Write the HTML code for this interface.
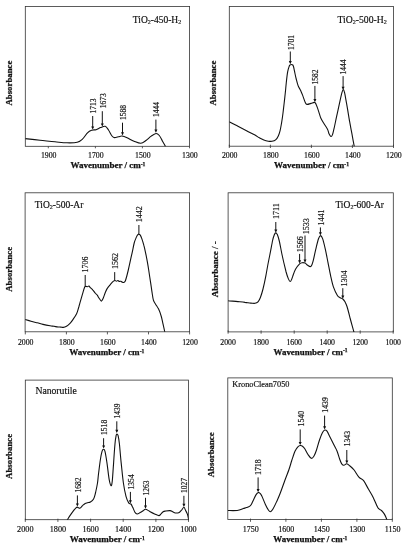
<!DOCTYPE html>
<html><head><meta charset="utf-8"><title>FTIR spectra</title>
<style>
html,body{margin:0;padding:0;background:#fff}
svg{display:block}
text{font-family:"Liberation Serif",serif;fill:#111;stroke:#111;stroke-width:0.18px}
.b{font-weight:bold;stroke-width:0.25px}
</style></head><body>
<svg width="407" height="550" viewBox="0 0 407 550">
<rect width="407" height="550" fill="#fff"/>
<g>
<clipPath id="c1"><rect x="25.3" y="6.4" width="164.3" height="139.9"/></clipPath>
<rect x="25.3" y="6.4" width="164.3" height="139.9" fill="none" stroke="#333" stroke-width="0.80"/>
<line x1="48.3" y1="146.3" x2="48.3" y2="148.3" stroke="#333" stroke-width="0.8"/>
<text x="48.7" y="158.1" font-size="7.8" text-anchor="middle">1900</text>
<line x1="95.4" y1="146.3" x2="95.4" y2="148.3" stroke="#333" stroke-width="0.8"/>
<text x="95.8" y="158.1" font-size="7.8" text-anchor="middle">1700</text>
<line x1="142.4" y1="146.3" x2="142.4" y2="148.3" stroke="#333" stroke-width="0.8"/>
<text x="142.8" y="158.1" font-size="7.8" text-anchor="middle">1500</text>
<line x1="189.5" y1="146.3" x2="189.5" y2="148.3" stroke="#333" stroke-width="0.8"/>
<text x="189.9" y="158.1" font-size="7.8" text-anchor="middle">1300</text>
<text class="b" x="107.9" y="168.4" font-size="9.0" text-anchor="middle">Wavenumber / cm<tspan font-size="5.6" dy="-2.6">-1</tspan></text>
<text class="b" transform="translate(11.6 83.1) rotate(-90)" font-size="8.8" text-anchor="middle">Absorbance</text>
<text x="132.8" y="22.7" font-size="9.5" text-anchor="start">TiO<tspan font-size="6" dy="1.3">2</tspan><tspan dy="-1.3">-450-H</tspan><tspan font-size="6" dy="1.3">2</tspan></text>
<path d="M25.2 138.6C27.7 138.9 35.0 139.7 40.0 140.2C45.0 140.7 50.5 141.4 55.0 141.8C59.5 142.2 63.3 142.7 67.0 142.8C70.7 142.9 74.6 142.9 77.2 142.3C79.8 141.7 80.7 140.8 82.4 139.2C84.1 137.6 86.0 134.3 87.5 132.8C89.0 131.3 90.2 130.7 91.6 130.2C93.0 129.7 94.6 130.1 96.1 129.7C97.6 129.3 99.1 128.2 100.6 127.6C102.1 127.0 103.9 125.9 105.2 126.3C106.5 126.7 107.4 128.4 108.5 130.0C109.6 131.6 111.0 134.7 112.0 136.0C113.0 137.3 113.2 137.5 114.3 137.6C115.4 137.7 117.2 137.1 118.5 136.8C119.8 136.5 120.5 135.8 121.9 136.0C123.3 136.2 125.1 136.9 127.1 137.8C129.1 138.7 131.7 140.3 134.0 141.2C136.3 142.1 138.8 143.4 140.8 143.3C142.8 143.2 144.3 141.7 146.0 140.5C147.7 139.3 149.5 137.3 151.2 136.1C152.9 134.9 154.7 133.6 156.0 133.5C157.3 133.4 158.2 134.2 159.3 135.5C160.4 136.8 161.5 139.4 162.5 141.2C163.5 143.0 164.8 145.0 165.5 146.5C166.2 148.0 166.8 149.4 167.0 150.0" fill="none" stroke="#111" stroke-width="1.10" stroke-linejoin="round" clip-path="url(#c1)"/>
<line x1="92.7" y1="116.0" x2="92.7" y2="128.1" stroke="#111" stroke-width="1.00"/>
<path d="M92.7 129.6 l-1.5 -3.2 h3z" fill="#111"/>
<text transform="translate(96.1 113.6) rotate(-90)" font-size="7.5">1713</text>
<line x1="102.3" y1="111.2" x2="102.3" y2="125.1" stroke="#111" stroke-width="1.00"/>
<path d="M102.3 126.6 l-1.5 -3.2 h3z" fill="#111"/>
<text transform="translate(105.8 108.2) rotate(-90)" font-size="7.5">1673</text>
<line x1="122.5" y1="122.7" x2="122.5" y2="133.9" stroke="#111" stroke-width="1.00"/>
<path d="M122.5 135.4 l-1.5 -3.2 h3z" fill="#111"/>
<text transform="translate(126.1 119.9) rotate(-90)" font-size="7.5">1588</text>
<line x1="155.9" y1="119.6" x2="155.9" y2="131.3" stroke="#111" stroke-width="1.00"/>
<path d="M155.9 132.8 l-1.5 -3.2 h3z" fill="#111"/>
<text transform="translate(159.4 117.0) rotate(-90)" font-size="7.5">1444</text>
</g>
<g>
<clipPath id="c2"><rect x="229.3" y="6.4" width="164.2" height="139.8"/></clipPath>
<rect x="229.3" y="6.4" width="164.2" height="139.8" fill="none" stroke="#333" stroke-width="0.80"/>
<line x1="229.3" y1="144.7" x2="229.3" y2="148.0" stroke="#333" stroke-width="0.8"/>
<text x="229.7" y="158.2" font-size="7.8" text-anchor="middle">2000</text>
<line x1="270.4" y1="144.7" x2="270.4" y2="148.0" stroke="#333" stroke-width="0.8"/>
<text x="270.8" y="158.2" font-size="7.8" text-anchor="middle">1800</text>
<line x1="311.4" y1="144.7" x2="311.4" y2="148.0" stroke="#333" stroke-width="0.8"/>
<text x="311.8" y="158.2" font-size="7.8" text-anchor="middle">1600</text>
<line x1="352.4" y1="144.7" x2="352.4" y2="148.0" stroke="#333" stroke-width="0.8"/>
<text x="352.8" y="158.2" font-size="7.8" text-anchor="middle">1400</text>
<line x1="393.5" y1="144.7" x2="393.5" y2="148.0" stroke="#333" stroke-width="0.8"/>
<text x="393.9" y="158.2" font-size="7.8" text-anchor="middle">1200</text>
<text class="b" x="311.5" y="168.1" font-size="9.0" text-anchor="middle">Wavenumber / cm<tspan font-size="5.6" dy="-2.6">-1</tspan></text>
<text class="b" transform="translate(215.6 83.1) rotate(-90)" font-size="8.8" text-anchor="middle">Absorbance</text>
<text x="337.5" y="22.6" font-size="9.7" text-anchor="start">TiO<tspan font-size="6" dy="1.3">2</tspan><tspan dy="-1.3">-500-H</tspan><tspan font-size="6" dy="1.3">2</tspan></text>
<path d="M229.3 121.7C230.7 122.5 235.0 124.7 237.9 126.2C240.8 127.7 243.7 129.2 246.5 130.7C249.3 132.2 252.8 133.9 255.0 135.1C257.1 136.3 257.9 137.0 259.4 137.8C260.9 138.6 262.3 139.4 263.8 140.0C265.3 140.6 266.9 141.0 268.3 141.2C269.7 141.4 270.8 141.5 272.0 141.3C273.2 141.1 274.6 140.8 275.6 139.9C276.7 139.0 277.6 137.4 278.3 135.9C279.1 134.4 279.6 132.8 280.1 130.7C280.6 128.6 281.0 126.2 281.5 123.3C282.0 120.3 282.6 116.4 283.0 113.0C283.4 109.6 283.8 105.9 284.2 102.7C284.6 99.5 284.8 97.2 285.2 93.8C285.6 90.4 285.9 86.2 286.3 82.5C286.7 78.8 287.2 74.4 287.7 71.7C288.2 69.0 288.8 67.4 289.2 66.3C289.6 65.2 289.8 65.2 290.2 64.9C290.6 64.6 291.1 64.5 291.5 64.5C291.9 64.5 292.4 64.6 292.8 65.0C293.2 65.4 293.3 65.9 293.6 67.0C293.9 68.1 294.2 69.8 294.6 71.7C295.0 73.6 295.5 76.2 296.1 78.5C296.7 80.8 297.3 83.4 298.0 85.4C298.7 87.4 299.8 88.7 300.5 90.3C301.2 91.9 301.7 92.8 302.5 94.9C303.3 97.0 304.7 101.5 305.5 103.1C306.3 104.7 306.4 104.4 307.3 104.4C308.2 104.5 309.7 103.7 311.0 103.4C312.3 103.1 313.9 101.9 314.9 102.5C315.9 103.1 316.4 105.2 317.2 107.1C317.9 109.0 318.8 111.9 319.4 113.8C320.0 115.7 320.2 116.6 320.9 118.2C321.6 119.8 322.7 121.5 323.8 123.3C324.9 125.1 326.6 127.5 327.5 129.2C328.4 130.9 328.4 132.5 329.0 133.7C329.6 134.9 330.3 136.2 330.9 136.4C331.5 136.6 331.9 136.1 332.4 134.9C332.9 133.7 333.2 132.1 333.9 129.2C334.6 126.3 335.5 121.6 336.4 117.4C337.3 113.2 338.4 108.4 339.3 104.2C340.2 100.0 341.3 94.8 342.0 92.4C342.7 90.0 342.9 89.6 343.3 89.6C343.7 89.6 343.9 90.0 344.5 92.4C345.1 94.8 345.8 99.3 346.7 104.2C347.6 109.1 348.8 117.0 349.7 121.9C350.6 126.8 351.1 129.6 351.9 133.7C352.6 137.8 353.6 143.1 354.2 146.2C354.8 149.2 355.1 151.0 355.3 152.0" fill="none" stroke="#111" stroke-width="1.10" stroke-linejoin="round" clip-path="url(#c2)"/>
<line x1="290.3" y1="51.5" x2="290.3" y2="62.7" stroke="#111" stroke-width="1.00"/>
<path d="M290.3 64.2 l-1.5 -3.2 h3z" fill="#111"/>
<text transform="translate(293.6 50.0) rotate(-90)" font-size="7.5">1701</text>
<line x1="314.9" y1="85.9" x2="314.9" y2="100.7" stroke="#111" stroke-width="1.00"/>
<path d="M314.9 102.2 l-1.5 -3.2 h3z" fill="#111"/>
<text transform="translate(318.2 84.4) rotate(-90)" font-size="7.5">1582</text>
<line x1="343.1" y1="76.1" x2="343.1" y2="88.4" stroke="#111" stroke-width="1.00"/>
<path d="M343.1 89.9 l-1.5 -3.2 h3z" fill="#111"/>
<text transform="translate(346.4 74.6) rotate(-90)" font-size="7.5">1444</text>
</g>
<g>
<clipPath id="c3"><rect x="25.1" y="192.8" width="164.5" height="139.0"/></clipPath>
<rect x="25.1" y="192.8" width="164.5" height="139.0" fill="none" stroke="#333" stroke-width="0.80"/>
<line x1="25.3" y1="331.8" x2="25.3" y2="334.4" stroke="#333" stroke-width="0.8"/>
<text x="25.7" y="344.6" font-size="7.8" text-anchor="middle">2000</text>
<line x1="66.4" y1="331.8" x2="66.4" y2="334.4" stroke="#333" stroke-width="0.8"/>
<text x="66.8" y="344.6" font-size="7.8" text-anchor="middle">1800</text>
<line x1="107.4" y1="331.8" x2="107.4" y2="334.4" stroke="#333" stroke-width="0.8"/>
<text x="107.8" y="344.6" font-size="7.8" text-anchor="middle">1600</text>
<line x1="148.5" y1="331.8" x2="148.5" y2="334.4" stroke="#333" stroke-width="0.8"/>
<text x="148.9" y="344.6" font-size="7.8" text-anchor="middle">1400</text>
<line x1="189.6" y1="331.8" x2="189.6" y2="334.4" stroke="#333" stroke-width="0.8"/>
<text x="190.0" y="344.6" font-size="7.8" text-anchor="middle">1200</text>
<text class="b" x="106.8" y="355.3" font-size="9.0" text-anchor="middle">Wavenumber / cm<tspan font-size="5.6" dy="-2.6">-1</tspan></text>
<text class="b" transform="translate(11.6 269.3) rotate(-90)" font-size="8.8" text-anchor="middle">Absorbance</text>
<text x="34.8" y="207.6" font-size="9.5" text-anchor="start">TiO<tspan font-size="6" dy="1.3">2</tspan><tspan dy="-1.3">-500-Ar</tspan></text>
<path d="M25.2 319.5C26.2 319.8 29.0 320.6 31.0 321.2C33.0 321.8 35.2 322.3 37.2 322.8C39.2 323.3 40.9 323.9 43.0 324.4C45.1 324.9 48.3 325.5 50.1 325.8C51.9 326.1 52.7 326.1 54.0 326.3C55.3 326.5 56.8 326.9 58.0 327.0C59.2 327.1 60.2 327.0 61.0 327.1C61.8 327.2 62.2 327.5 63.0 327.4C63.8 327.3 64.8 327.3 66.0 326.6C67.2 325.9 68.8 324.5 70.0 323.3C71.2 322.1 71.8 321.2 72.9 319.6C74.0 318.0 75.6 315.8 76.6 313.7C77.6 311.6 78.0 309.5 78.8 307.0C79.5 304.5 80.4 301.3 81.1 298.9C81.8 296.4 82.4 294.3 83.0 292.3C83.6 290.3 84.2 288.1 84.7 287.1C85.2 286.1 85.5 286.4 85.9 286.4C86.4 286.3 86.9 286.9 87.4 286.8C87.9 286.8 88.4 285.9 88.9 286.1C89.4 286.3 89.9 287.2 90.6 287.9C91.3 288.6 92.2 289.2 92.9 290.1C93.7 291.0 94.4 292.1 95.1 293.0C95.8 293.9 96.7 294.4 97.3 295.2C97.9 296.0 98.1 296.7 98.8 297.7C99.5 298.7 100.6 301.0 101.3 301.1C102.0 301.2 102.5 299.7 103.2 298.2C103.9 296.7 104.7 294.0 105.4 292.3C106.1 290.6 106.7 289.2 107.6 287.9C108.5 286.5 109.6 285.3 110.6 284.2C111.6 283.1 112.8 281.8 113.5 281.2C114.2 280.6 114.5 280.5 115.0 280.5C115.5 280.5 116.0 281.2 116.5 281.2C117.0 281.2 117.4 280.4 117.9 280.5C118.4 280.6 118.9 281.4 119.4 281.5C119.9 281.6 120.4 281.1 120.9 281.2C121.4 281.3 121.9 282.1 122.4 282.3C122.9 282.5 123.3 282.6 123.8 282.4C124.3 282.2 124.8 282.0 125.3 280.9C125.8 279.8 126.3 277.8 126.8 276.0C127.3 274.2 127.8 272.1 128.3 270.0C128.8 267.9 129.1 266.5 129.7 263.7C130.3 260.9 131.2 256.8 132.0 253.3C132.8 249.9 133.5 245.7 134.2 243.0C134.9 240.3 135.8 238.5 136.4 237.1C137.0 235.7 137.5 235.1 137.9 234.6C138.3 234.1 138.5 234.1 138.9 234.2C139.3 234.2 139.6 234.2 140.1 234.9C140.6 235.6 141.2 236.9 141.8 238.6C142.4 240.3 143.2 242.8 143.8 245.2C144.5 247.6 145.1 250.5 145.7 253.3C146.3 256.1 146.9 259.4 147.4 262.2C147.9 265.0 148.2 266.7 148.7 270.0C149.2 273.3 149.9 278.1 150.5 281.8C151.1 285.5 151.5 289.0 152.0 292.1C152.5 295.2 152.8 298.2 153.4 300.2C154.0 302.2 154.7 302.7 155.6 304.2C156.5 305.7 157.6 307.1 158.6 309.1C159.6 311.2 160.6 314.1 161.3 316.5C162.0 318.9 162.4 321.2 163.0 323.8C163.6 326.4 164.3 329.6 164.8 332.0C165.3 334.4 165.8 337.0 166.0 338.0" fill="none" stroke="#111" stroke-width="1.10" stroke-linejoin="round" clip-path="url(#c3)"/>
<line x1="85.2" y1="275.0" x2="85.2" y2="286.4" stroke="#111" stroke-width="1.00"/>
<text transform="translate(88.4 272.6) rotate(-90)" font-size="8.0">1706</text>
<line x1="114.7" y1="272.1" x2="114.7" y2="280.5" stroke="#111" stroke-width="1.00"/>
<text transform="translate(117.9 269.0) rotate(-90)" font-size="8.0">1562</text>
<line x1="138.9" y1="225.0" x2="138.9" y2="234.2" stroke="#111" stroke-width="1.00"/>
<text transform="translate(142.1 222.3) rotate(-90)" font-size="8.0">1442</text>
</g>
<g>
<clipPath id="c4"><rect x="228.1" y="192.8" width="165.2" height="139.1"/></clipPath>
<rect x="228.1" y="192.8" width="165.2" height="139.1" fill="none" stroke="#333" stroke-width="0.80"/>
<line x1="228.1" y1="330.4" x2="228.1" y2="333.7" stroke="#333" stroke-width="0.8"/>
<text x="228.1" y="344.8" font-size="7.8" text-anchor="middle">2000</text>
<line x1="261.1" y1="330.4" x2="261.1" y2="333.7" stroke="#333" stroke-width="0.8"/>
<text x="261.1" y="344.8" font-size="7.8" text-anchor="middle">1800</text>
<line x1="294.2" y1="330.4" x2="294.2" y2="333.7" stroke="#333" stroke-width="0.8"/>
<text x="294.2" y="344.8" font-size="7.8" text-anchor="middle">1600</text>
<line x1="327.2" y1="330.4" x2="327.2" y2="333.7" stroke="#333" stroke-width="0.8"/>
<text x="327.2" y="344.8" font-size="7.8" text-anchor="middle">1400</text>
<line x1="360.2" y1="330.4" x2="360.2" y2="333.7" stroke="#333" stroke-width="0.8"/>
<text x="360.2" y="344.8" font-size="7.8" text-anchor="middle">1200</text>
<line x1="393.2" y1="330.4" x2="393.2" y2="333.7" stroke="#333" stroke-width="0.8"/>
<text x="393.2" y="344.8" font-size="7.8" text-anchor="middle">1000</text>
<text class="b" x="310.6" y="354.6" font-size="8.9" text-anchor="middle">Wavenumber / cm<tspan font-size="5.5" dy="-2.6">-1</tspan></text>
<text class="b" transform="translate(218.2 269.3) rotate(-90)" font-size="9.0" text-anchor="middle">Absorbance / -</text>
<text x="335.4" y="207.6" font-size="9.5" text-anchor="start">TiO<tspan font-size="6" dy="1.3">2</tspan><tspan dy="-1.3">-600-Ar</tspan></text>
<path d="M228.1 300.7C229.7 300.9 235.1 301.3 237.9 301.6C240.7 301.9 242.8 302.1 245.0 302.4C247.2 302.6 249.1 303.0 250.8 303.1C252.5 303.2 253.8 303.5 255.0 303.3C256.2 303.1 257.1 302.8 258.0 301.8C258.9 300.8 259.6 299.6 260.4 297.5C261.2 295.4 262.1 292.6 263.0 289.0C263.9 285.4 265.0 280.3 265.8 276.1C266.6 271.9 267.3 267.6 268.0 264.0C268.7 260.4 269.1 258.4 269.9 254.5C270.7 250.6 271.9 243.8 272.6 240.5C273.3 237.2 273.8 236.1 274.3 234.8C274.8 233.5 275.3 232.9 275.8 232.9C276.3 232.9 276.7 233.2 277.3 234.6C277.9 235.9 278.5 237.7 279.3 241.0C280.1 244.3 280.9 249.3 282.0 254.5C283.1 259.7 285.1 268.0 286.1 272.0C287.2 276.0 287.6 277.0 288.3 278.6C289.0 280.2 289.6 281.4 290.1 281.5C290.7 281.6 291.2 280.4 291.6 279.5C292.1 278.6 292.2 277.8 292.8 276.1C293.4 274.4 294.4 271.3 295.5 269.3C296.6 267.3 298.5 265.0 299.6 263.9C300.7 262.8 301.4 262.8 302.3 262.7C303.2 262.6 304.1 262.7 305.0 263.1C305.9 263.5 306.8 264.7 307.7 265.3C308.6 265.9 309.7 266.7 310.4 266.6C311.1 266.6 311.4 265.9 311.8 265.0C312.2 264.1 312.4 263.8 313.1 261.2C313.8 258.6 314.9 252.8 315.8 249.1C316.7 245.4 317.7 241.1 318.5 238.8C319.3 236.6 319.7 235.6 320.4 235.6C321.1 235.6 321.8 236.3 322.6 238.6C323.4 240.8 324.4 245.1 325.3 249.1C326.2 253.1 327.1 258.1 328.0 262.6C328.9 267.1 329.8 272.1 330.7 276.1C331.6 280.2 332.3 283.7 333.4 286.9C334.5 290.1 336.3 293.7 337.4 295.5C338.5 297.3 339.2 297.1 340.1 297.7C341.0 298.3 342.0 298.3 342.8 299.0C343.6 299.7 344.3 300.6 345.0 301.8C345.7 303.1 346.1 303.7 347.0 306.5C347.9 309.3 349.1 314.2 350.2 318.5C351.3 322.8 353.1 328.8 353.9 332.0C354.7 335.2 355.0 337.0 355.2 338.0" fill="none" stroke="#111" stroke-width="1.10" stroke-linejoin="round" clip-path="url(#c4)"/>
<line x1="275.8" y1="222.0" x2="275.8" y2="231.2" stroke="#111" stroke-width="1.00"/>
<path d="M275.8 232.7 l-1.5 -3.2 h3z" fill="#111"/>
<text transform="translate(279.3 218.9) rotate(-90)" font-size="8.0">1711</text>
<line x1="299.6" y1="253.9" x2="299.6" y2="261.9" stroke="#111" stroke-width="1.00"/>
<path d="M299.6 263.4 l-1.5 -3.2 h3z" fill="#111"/>
<text transform="translate(302.9 252.3) rotate(-90)" font-size="8.0">1566</text>
<line x1="305.0" y1="235.5" x2="305.0" y2="261.2" stroke="#111" stroke-width="1.00"/>
<path d="M305.0 262.7 l-1.5 -3.2 h3z" fill="#111"/>
<text transform="translate(308.9 234.2) rotate(-90)" font-size="8.0">1533</text>
<line x1="320.4" y1="227.4" x2="320.4" y2="233.9" stroke="#111" stroke-width="1.00"/>
<path d="M320.4 235.4 l-1.5 -3.2 h3z" fill="#111"/>
<text transform="translate(324.2 225.5) rotate(-90)" font-size="8.0">1441</text>
<line x1="342.8" y1="288.2" x2="342.8" y2="297.3" stroke="#111" stroke-width="1.00"/>
<path d="M342.8 298.8 l-1.5 -3.2 h3z" fill="#111"/>
<text transform="translate(347.2 286.4) rotate(-90)" font-size="8.0">1304</text>
</g>
<g>
<clipPath id="c5"><rect x="25.3" y="380.1" width="163.2" height="139.6"/></clipPath>
<rect x="25.3" y="380.1" width="163.2" height="139.6" fill="none" stroke="#333" stroke-width="0.80"/>
<line x1="25.3" y1="518.7" x2="25.3" y2="521.9" stroke="#333" stroke-width="0.8"/>
<text x="25.3" y="531.8" font-size="8.2" text-anchor="middle">2000</text>
<line x1="57.9" y1="518.7" x2="57.9" y2="521.9" stroke="#333" stroke-width="0.8"/>
<text x="57.9" y="531.8" font-size="8.2" text-anchor="middle">1800</text>
<line x1="90.6" y1="518.7" x2="90.6" y2="521.9" stroke="#333" stroke-width="0.8"/>
<text x="90.6" y="531.8" font-size="8.2" text-anchor="middle">1600</text>
<line x1="123.2" y1="518.7" x2="123.2" y2="521.9" stroke="#333" stroke-width="0.8"/>
<text x="123.2" y="531.8" font-size="8.2" text-anchor="middle">1400</text>
<line x1="155.9" y1="518.7" x2="155.9" y2="521.9" stroke="#333" stroke-width="0.8"/>
<text x="155.9" y="531.8" font-size="8.2" text-anchor="middle">1200</text>
<line x1="188.5" y1="518.7" x2="188.5" y2="521.9" stroke="#333" stroke-width="0.8"/>
<text x="188.5" y="531.8" font-size="8.2" text-anchor="middle">1000</text>
<text class="b" x="107.2" y="542.2" font-size="9.0" text-anchor="middle">Wavenumber / cm<tspan font-size="5.6" dy="-2.6">-1</tspan></text>
<text class="b" transform="translate(11.6 456.4) rotate(-90)" font-size="8.8" text-anchor="middle">Absorbance</text>
<text x="35.4" y="393.8" font-size="9.7" text-anchor="start">Nanorutile</text>
<path d="M65.5 524.0C65.8 523.3 66.8 521.1 67.5 519.7C68.2 518.3 69.1 517.0 70.0 515.6C70.9 514.2 72.1 512.5 73.0 511.3C73.9 510.1 74.8 509.0 75.5 508.3C76.2 507.6 76.6 507.2 77.1 507.1C77.6 507.0 78.0 507.6 78.5 507.8C79.0 508.0 79.3 508.4 79.8 508.2C80.3 508.0 81.0 507.3 81.5 506.8C82.0 506.3 82.4 505.7 83.0 505.2C83.6 504.7 84.5 504.0 85.2 503.6C86.0 503.2 86.6 503.1 87.5 502.8C88.4 502.5 89.4 502.6 90.4 502.0C91.4 501.4 92.7 500.5 93.6 498.9C94.5 497.3 94.9 495.1 95.6 492.5C96.2 489.9 97.0 486.1 97.5 483.0C98.0 479.9 98.0 477.9 98.5 474.0C99.0 470.1 99.8 463.3 100.4 459.5C101.0 455.7 101.6 452.9 102.1 451.2C102.6 449.5 103.0 449.3 103.5 449.3C104.0 449.3 104.3 448.9 104.9 451.2C105.5 453.5 106.3 458.4 107.0 463.1C107.7 467.9 108.5 475.9 109.2 479.7C109.9 483.5 110.5 485.5 111.0 485.7C111.5 485.9 111.9 484.6 112.3 480.8C112.7 477.0 113.1 469.3 113.6 463.1C114.0 456.9 114.6 448.4 115.0 443.8C115.4 439.2 115.8 437.2 116.1 435.6C116.4 434.0 116.6 434.0 116.9 434.0C117.2 434.0 117.7 434.0 118.1 435.6C118.5 437.2 118.9 439.2 119.4 443.8C119.9 448.4 120.5 456.6 121.2 463.1C121.9 469.6 122.6 477.5 123.4 483.0C124.2 488.5 125.1 493.0 126.0 496.3C126.9 499.6 127.9 501.6 128.7 502.9C129.5 504.2 130.2 503.3 130.9 504.0C131.6 504.7 132.0 505.9 132.7 507.3C133.4 508.7 134.2 511.1 134.9 512.2C135.6 513.3 136.2 513.9 137.1 514.0C138.0 514.1 139.2 513.1 140.2 512.6C141.2 512.1 142.2 511.4 143.1 510.8C144.0 510.2 144.4 509.1 145.5 509.2C146.6 509.3 148.0 510.5 149.5 511.3C151.0 512.1 153.0 513.2 154.6 513.9C156.2 514.6 157.8 515.6 158.9 515.6C160.0 515.6 160.3 514.5 161.0 513.9C161.7 513.2 162.4 512.2 163.2 511.7C164.0 511.2 164.7 511.2 165.8 511.0C167.0 510.8 168.9 510.5 170.1 510.6C171.2 510.7 171.8 511.4 172.7 511.8C173.6 512.2 174.3 512.9 175.3 513.0C176.3 513.1 177.7 513.1 178.7 512.7C179.7 512.3 180.4 511.3 181.3 510.4C182.2 509.5 183.2 507.3 183.9 507.3C184.6 507.3 185.0 509.3 185.6 510.4C186.2 511.5 186.8 512.5 187.3 513.9C187.8 515.3 188.2 517.3 188.5 519.0C188.8 520.7 189.1 523.2 189.2 524.0" fill="none" stroke="#111" stroke-width="1.10" stroke-linejoin="round" clip-path="url(#c5)"/>
<line x1="77.4" y1="495.4" x2="77.4" y2="505.1" stroke="#111" stroke-width="1.00"/>
<path d="M77.4 506.6 l-1.5 -3.2 h3z" fill="#111"/>
<text transform="translate(81.2 492.6) rotate(-90)" font-size="7.6">1682</text>
<line x1="103.6" y1="438.2" x2="103.6" y2="447.1" stroke="#111" stroke-width="1.00"/>
<path d="M103.6 448.6 l-1.5 -3.2 h3z" fill="#111"/>
<text transform="translate(106.7 435.0) rotate(-90)" font-size="7.6">1518</text>
<line x1="116.8" y1="421.3" x2="116.8" y2="431.5" stroke="#111" stroke-width="1.00"/>
<path d="M116.8 433.0 l-1.5 -3.2 h3z" fill="#111"/>
<text transform="translate(120.3 418.6) rotate(-90)" font-size="7.6">1439</text>
<line x1="130.4" y1="491.9" x2="130.4" y2="501.9" stroke="#111" stroke-width="1.00"/>
<path d="M130.4 503.4 l-1.5 -3.2 h3z" fill="#111"/>
<text transform="translate(133.9 489.5) rotate(-90)" font-size="7.6">1354</text>
<line x1="145.5" y1="497.8" x2="145.5" y2="507.3" stroke="#111" stroke-width="1.00"/>
<path d="M145.5 508.8 l-1.5 -3.2 h3z" fill="#111"/>
<text transform="translate(149.0 495.6) rotate(-90)" font-size="7.6">1263</text>
<line x1="183.9" y1="495.8" x2="183.9" y2="505.5" stroke="#111" stroke-width="1.00"/>
<path d="M183.9 507.0 l-1.5 -3.2 h3z" fill="#111"/>
<text transform="translate(187.0 493.1) rotate(-90)" font-size="7.6">1027</text>
</g>
<g>
<clipPath id="c6"><rect x="227.8" y="377.9" width="164.5" height="141.7"/></clipPath>
<rect x="227.8" y="377.9" width="164.5" height="141.7" fill="none" stroke="#333" stroke-width="0.80"/>
<line x1="250.5" y1="518.6" x2="250.5" y2="521.8" stroke="#333" stroke-width="0.8"/>
<text x="250.8" y="531.7" font-size="8.0" text-anchor="middle">1750</text>
<line x1="285.9" y1="518.6" x2="285.9" y2="521.8" stroke="#333" stroke-width="0.8"/>
<text x="286.2" y="531.7" font-size="8.0" text-anchor="middle">1600</text>
<line x1="321.4" y1="518.6" x2="321.4" y2="521.8" stroke="#333" stroke-width="0.8"/>
<text x="321.7" y="531.7" font-size="8.0" text-anchor="middle">1450</text>
<line x1="356.9" y1="518.6" x2="356.9" y2="521.8" stroke="#333" stroke-width="0.8"/>
<text x="357.2" y="531.7" font-size="8.0" text-anchor="middle">1300</text>
<line x1="392.3" y1="518.6" x2="392.3" y2="521.8" stroke="#333" stroke-width="0.8"/>
<text x="392.6" y="531.7" font-size="8.0" text-anchor="middle">1150</text>
<text class="b" x="310.3" y="542.1" font-size="8.9" text-anchor="middle">Wavenumber / cm<tspan font-size="5.5" dy="-2.6">-1</tspan></text>
<text class="b" transform="translate(214.2 454.8) rotate(-90)" font-size="8.8" text-anchor="middle">Absorbance</text>
<text x="232.3" y="387.4" font-size="8.3" text-anchor="start">KronoClean7050</text>
<path d="M227.8 510.5C228.7 510.5 231.4 510.6 233.0 510.6C234.6 510.6 236.0 510.6 237.2 510.5C238.4 510.4 239.0 510.1 240.0 509.8C241.0 509.5 242.2 509.0 243.3 508.6C244.4 508.2 245.5 508.0 246.5 507.6C247.5 507.2 248.7 506.9 249.5 506.4C250.3 505.9 250.7 505.4 251.3 504.5C251.9 503.6 252.3 502.3 253.1 500.7C253.9 499.1 255.2 496.0 256.1 494.6C257.0 493.2 257.9 492.8 258.5 492.6C259.1 492.4 259.5 492.8 260.0 493.3C260.5 493.8 260.8 494.0 261.7 495.8C262.6 497.6 264.3 502.0 265.4 504.4C266.5 506.8 267.6 508.8 268.4 510.0C269.2 511.2 269.6 511.9 270.3 511.8C271.0 511.7 271.8 511.0 272.8 509.3C273.8 507.6 275.3 504.6 276.5 501.9C277.7 499.2 278.8 497.0 280.2 493.3C281.6 489.6 283.7 483.7 285.1 479.8C286.5 475.9 287.7 473.1 288.8 470.0C289.9 466.9 290.6 464.2 291.6 461.0C292.7 457.8 294.0 453.4 295.1 451.0C296.2 448.6 297.2 447.5 298.1 446.6C299.0 445.7 299.5 445.6 300.2 445.5C300.9 445.4 301.7 445.6 302.5 446.2C303.3 446.8 303.9 447.4 304.8 448.8C305.7 450.2 306.9 452.9 308.0 454.5C309.1 456.1 310.4 458.1 311.4 458.3C312.4 458.6 313.1 457.4 314.0 456.0C314.9 454.6 315.6 452.7 316.5 450.0C317.4 447.3 318.5 442.9 319.5 440.0C320.5 437.1 321.6 434.2 322.5 432.5C323.4 430.8 324.1 430.2 324.8 430.0C325.6 429.8 326.1 430.0 327.0 431.2C327.9 432.4 328.9 434.9 330.1 437.2C331.3 439.5 332.9 442.8 334.0 445.1C335.1 447.4 336.0 448.6 337.0 451.0C338.0 453.4 339.1 457.6 339.9 459.8C340.7 462.0 341.2 463.3 341.9 464.2C342.6 465.1 343.1 465.4 343.9 465.3C344.7 465.2 345.8 463.7 346.8 463.8C347.8 463.9 348.8 465.0 350.0 466.0C351.2 467.0 352.6 468.1 354.1 470.0C355.6 471.9 357.3 475.3 358.9 477.1C360.5 478.9 362.0 478.7 363.6 480.7C365.2 482.7 366.8 486.3 368.4 489.1C370.0 491.9 371.6 494.3 373.2 497.4C374.8 500.5 376.5 505.5 377.9 507.7C379.3 509.9 380.4 509.4 381.5 510.5C382.6 511.6 383.5 512.6 384.4 514.1C385.3 515.6 386.1 517.6 386.7 519.3C387.3 520.9 387.8 523.2 388.0 524.0" fill="none" stroke="#111" stroke-width="1.10" stroke-linejoin="round" clip-path="url(#c6)"/>
<line x1="258.1" y1="477.4" x2="258.1" y2="490.7" stroke="#111" stroke-width="1.00"/>
<path d="M258.1 492.2 l-1.5 -3.2 h3z" fill="#111"/>
<text transform="translate(261.4 475.0) rotate(-90)" font-size="7.8">1718</text>
<line x1="300.2" y1="429.4" x2="300.2" y2="443.6" stroke="#111" stroke-width="1.00"/>
<path d="M300.2 445.1 l-1.5 -3.2 h3z" fill="#111"/>
<text transform="translate(303.7 426.4) rotate(-90)" font-size="7.8">1540</text>
<line x1="324.6" y1="415.6" x2="324.6" y2="428.0" stroke="#111" stroke-width="1.00"/>
<path d="M324.6 429.5 l-1.5 -3.2 h3z" fill="#111"/>
<text transform="translate(327.7 412.7) rotate(-90)" font-size="7.8">1439</text>
<line x1="346.8" y1="450.0" x2="346.8" y2="462.1" stroke="#111" stroke-width="1.00"/>
<path d="M346.8 463.6 l-1.5 -3.2 h3z" fill="#111"/>
<text transform="translate(350.2 446.5) rotate(-90)" font-size="7.8">1343</text>
</g>
</svg>
</body></html>
